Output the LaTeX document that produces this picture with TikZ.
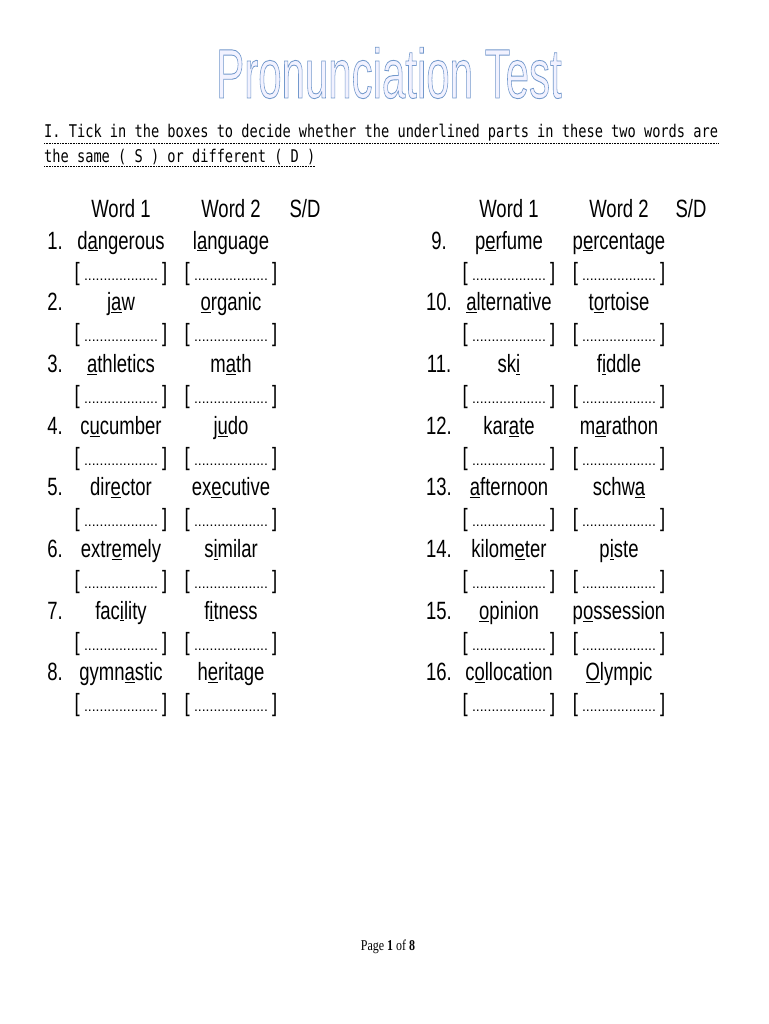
\documentclass[tikz,border=0pt]{standalone}
\usepackage{graphicx}
\usepackage{fontspec}
\setmainfont{Liberation Sans}
\newfontfamily\instrfont{DejaVu Sans Mono}
\newfontfamily\footfont{Liberation Serif}
\newcommand\nar[1]{\scalebox{0.74}[1]{#1}}
\newcommand\bx{\scalebox{0.74}[1]{[}\,{\fontsize{14}{14}\selectfont...................}\,\scalebox{0.74}[1]{]}}
\begin{document}
\begin{tikzpicture}[x=1pt,y=-1pt,
  wd/.style={font=\fontsize{25}{25}\selectfont, anchor=base},
  br/.style={font=\fontsize{25}{25}\selectfont, anchor=base},
  instr/.style={font=\instrfont\fontsize{17.5}{17.5}\selectfont, anchor=base west, inner sep=0}]
\useasboundingbox (0,0) rectangle (768,1024);
\fill[white] (0,0) rectangle (768,1024);
% title
\node[font=\fontsize{70}{70}\selectfont, text=blue!5, anchor=base] (title) at (389,98)
  {\scalebox{0.6}[1]{\special{pdf:literal direct 2 Tr 0.9 w 0.45 0.6 0.8 RG}Pronunciation Test\special{pdf:literal direct 0 Tr}}};
% instruction
\node[instr] (i1) at (44,138) {\scalebox{0.78}[1]{I. Tick in the boxes to decide whether the underlined parts in these two words are}};
\node[instr] (i2) at (44,163) {\scalebox{0.78}[1]{the same ( S ) or different ( D )}};
\draw[densely dotted, line width=0.6pt] (i1.south west) ++(0,1) -- ([yshift=-1]i1.south east);
\draw[densely dotted, line width=0.6pt] (i2.south west) ++(0,1) -- ([yshift=-1]i2.south east);
% headers
\foreach \c/\xa/\xb/\xs in {L/121/231/305, R/509/619/691}{
  \node[wd] (h1\c) at (\xa,218) {\nar{Word 1}};
  \node[wd] (h2\c) at (\xb,218) {\nar{Word 2}};
  \node[wd] (hs\c) at (\xs,218) {\nar{S/D}};
}
% rows
\foreach \n/\a/\b [count=\i from 0] in {
 1./d\underline{a}ngerous/l\underline{a}nguage,
 2./j\underline{a}w/\underline{o}rganic,
 3./\underline{a}thletics/m\underline{a}th,
 4./c\underline{u}cumber/j\underline{u}do,
 5./dir\underline{e}ctor/ex\underline{e}cutive,
 6./extr\underline{e}mely/s\underline{i}milar,
 7./fac\underline{i}lity/f\underline{i}tness,
 8./gymn\underline{a}stic/h\underline{e}ritage}{
  \pgfmathsetmacro\yy{249+61.7*\i}
  \pgfmathsetmacro\yb{280+61.7*\i}
  \node[wd] (nL\i) at (55,\yy) {\nar{\n}};
  \node[wd] (aL\i) at (121,\yy) {\nar{\a}};
  \node[wd] (bL\i) at (231,\yy) {\nar{\b}};
  \node[br] (xL\i) at (121,\yb) {\bx};
  \node[br] (yL\i) at (231,\yb) {\bx};
}
\foreach \n/\a/\b [count=\i from 0] in {
 9./p\underline{e}rfume/p\underline{e}rcentage,
 10./\underline{a}lternative/t\underline{o}rtoise,
 11./sk\underline{i}/f\underline{i}ddle,
 12./kar\underline{a}te/m\underline{a}rathon,
 13./\underline{a}fternoon/schw\underline{a},
 14./kilom\underline{e}ter/p\underline{i}ste,
 15./\underline{o}pinion/p\underline{o}ssession,
 16./c\underline{o}llocation/\underline{O}lympic}{
  \pgfmathsetmacro\yy{249+61.7*\i}
  \pgfmathsetmacro\yb{280+61.7*\i}
  \node[wd] (nR\i) at (439,\yy) {\nar{\n}};
  \node[wd] (aR\i) at (509,\yy) {\nar{\a}};
  \node[wd] (bR\i) at (619,\yy) {\nar{\b}};
  \node[br] (xR\i) at (509,\yb) {\bx};
  \node[br] (yR\i) at (619,\yb) {\bx};
}
% footer
\node[font=\footfont\fontsize{15}{15}\selectfont, anchor=base] (foot) at (388,950) {\scalebox{0.8}[1]{Page \textbf{1} of \textbf{8}}};
\end{tikzpicture}
\end{document}
